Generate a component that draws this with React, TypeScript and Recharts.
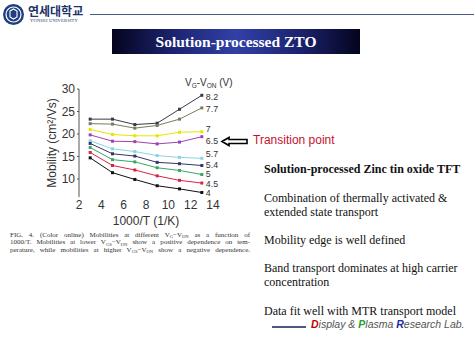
import React from "react"
import { LineChart, Line, XAxis, YAxis, LabelList } from "recharts"

// 1000/T (1/K)
const invTemp = [3, 5, 7, 9, 11, 13]

// mobility (cm2/Vs) for each VG-VON
const mu82 = [23.3, 23.3, 22.1, 22.4, 25.5, 28.6]
const mu77 = [22.3, 22.2, 21.3, 21.9, 23.3, 25.8]
const mu70 = [21.0, 19.9, 19.6, 19.6, 20.4, 20.5]
const mu65 = [19.8, 18.4, 18.3, 17.8, 18.2, 19.4]
const mu57 = [18.5, 16.7, 16.1, 15.2, 14.8, 14.6]
const mu54 = [17.9, 15.6, 15.1, 13.7, 13.4, 13.0]
const mu50 = [17.0, 14.3, 13.8, 12.5, 11.9, 11.0]
const mu45 = [15.9, 13.0, 12.0, 10.7, 9.7, 9.1]
const mu40 = [14.7, 11.4, 9.9, 8.5, 7.8, 7.0]

const xTicks = [2, 4, 6, 8, 10, 12, 14]
const yTicks = [10, 15, 20, 25, 30]

const series = [
  { key: "v82", label: "8.2", values: mu82, color: "#3a3a4a", dy: 2 },
  { key: "v77", label: "7.7", values: mu77, color: "#7a7a5a", dy: 1 },
  { key: "v70", label: "7", values: mu70, color: "#e6e600", dy: -3 },
  { key: "v65", label: "6.5", values: mu65, color: "#a040b0", dy: 4 },
  { key: "v57", label: "5.7", values: mu57, color: "#88d4e4", dy: -4 },
  { key: "v54", label: "5.4", values: mu54, color: "#35356a", dy: -1 },
  { key: "v50", label: "5", values: mu50, color: "#3aa860", dy: -1 },
  { key: "v45", label: "4.5", values: mu45, color: "#dd2244", dy: 0.5 },
  { key: "v40", label: "4", values: mu40, color: "#111111", dy: 0.5 },
]

const rows = invTemp.map((t, i) => {
  const r: Record<string, number> = { t }
  series.forEach(s => { r[s.key] = s.values[i] })
  return r
})

const sans = "'Liberation Sans', Arial, sans-serif"
const serif = "'Liberation Serif', 'Times New Roman', serif"

function squareDot(color: string) {
  return (p: any) => (
    <rect key={`d-${p.index}`} x={p.cx - 1.5} y={p.cy - 1.5} width={3} height={3} fill={color} />
  )
}

function endLabel(text: string, dy: number) {
  return (p: any) => {
    if (p.index !== invTemp.length - 1) return null
    return (
      <text x={p.x + 4} y={p.y + dy} dy="0.35em" fontSize={8.8} fill="#333" fontFamily={sans}>
        {text}
      </text>
    )
  }
}

function Chart() {
  return (
    <LineChart width={240} height={150} data={rows} margin={{ top: 9, right: 47, left: 19, bottom: 3 }}>
      <XAxis
        dataKey="t" type="number" domain={[2, 14]} ticks={xTicks}
        axisLine={false} tickLine={false} tickSize={0} tickMargin={3} height={30}
        tick={{ fontSize: 12, fill: "#333", fontFamily: sans }}
        label={{ value: "1000/T (1/K)", position: "insideBottom", offset: 2, fontSize: 12, fill: "#333", fontFamily: sans }}
      />
      <YAxis
        type="number" domain={[6, 30]} ticks={yTicks} width={40}
        axisLine={{ stroke: "#555" }} tickLine={{ stroke: "#555" }} tickSize={2} tickMargin={2}
        tick={{ fontSize: 12, fill: "#333", fontFamily: sans }}
        label={{
          value: "Mobility (cm²/Vs)", angle: -90, position: "insideLeft", offset: 13,
          fontSize: 12, fill: "#333", fontFamily: sans, style: { textAnchor: "middle" },
        }}
      />
      {series.map(s => (
        <Line
          key={s.key} dataKey={s.key} stroke={s.color} strokeWidth={1}
          dot={squareDot(s.color)} activeDot={false} isAnimationActive={false}
        >
          <LabelList dataKey={s.key} content={endLabel(s.label, s.dy)} />
        </Line>
      ))}
    </LineChart>
  )
}

const rightLines = [
  { text: "Solution-processed Zinc tin oxide TFT", y: 169, bold: true },
  { text: "Combination of thermally activated &", y: 198 },
  { text: "extended state transport", y: 212 },
  { text: "Mobility edge is well defined", y: 240 },
  { text: "Band transport dominates at high carrier", y: 268 },
  { text: "concentration", y: 282 },
  { text: "Data fit well with MTR transport model", y: 311 },
]

const abs = (s: React.CSSProperties): React.CSSProperties => ({ position: "absolute", ...s })

function Sub({ children }: { children: React.ReactNode }) {
  return <span style={{ fontSize: 4.6, position: "relative", top: 1.2 }}>{children}</span>
}

const capLine: React.CSSProperties = { textAlign: "justify", textAlignLast: "justify", whiteSpace: "nowrap", height: 7.4 }

export default function App() {
  return (
    <div style={{ position: "fixed", left: 0, top: 0, width: 474, height: 355, background: "#fff", overflow: "hidden" }}>
      {/* header logo */}
      <svg style={abs({ left: 2, top: 3 })} width={23} height={23}>
        <circle cx={11.5} cy={11.5} r={10.5} fill="#1f3f7f" />
        <circle cx={11.5} cy={11.5} r={7.5} fill="none" stroke="#fff" strokeWidth={1.2} />
        <path d="M8 8 L11.5 6 L15 8 L15 14 L11.5 16 L8 14 Z" fill="none" stroke="#fff" strokeWidth={1.1} />
      </svg>
      <div style={abs({ left: 28, top: 4, fontSize: 12, fontWeight: 700, color: "#223366", fontFamily: "'Noto Sans CJK KR', sans-serif", lineHeight: "14px" })}>
        연세대학교
      </div>
      <div style={abs({ left: 30, top: 18, fontSize: 4.5, color: "#223366", fontFamily: serif, letterSpacing: 0.2 })}>
        YONSEI UNIVERSITY
      </div>
      <div style={abs({ left: 90, top: 14, width: 384, height: 1, background: "#4a5a80" })} />

      {/* title */}
      <div
        style={abs({
          left: 112, top: 29, width: 248, height: 25,
          background: "linear-gradient(to right, #04041e 0%, #1c2470 25%, #3240a6 50%, #1c2470 75%, #04041e 100%)",
          color: "#fff", fontFamily: serif, fontWeight: 700, fontSize: 15.5,
          display: "flex", alignItems: "center", justifyContent: "center",
        })}
      >
        Solution-processed ZTO
      </div>

      {/* chart */}
      <div style={abs({ left: 20, top: 80 })}>
        <Chart />
      </div>
      <div style={abs({ left: 185, top: 77, fontSize: 10, lineHeight: "11px", color: "#333", fontFamily: sans, whiteSpace: "nowrap" })}>
        V<span style={{ fontSize: 6.5, position: "relative", top: 2 }}>G</span>-V<span style={{ fontSize: 6.5, position: "relative", top: 2 }}>ON</span> (V)
      </div>

      {/* arrow */}
      <svg style={abs({ left: 220, top: 136 })} width={30} height={12}>
        <path d="M2 5.5 L9 1.5 L9 3.5 L27 3.5 L27 7.5 L9 7.5 L9 9.5 Z" fill="#fff" stroke="#000" strokeWidth={1.6} strokeLinejoin="miter" />
      </svg>
      <div style={abs({ left: 253, top: 133, fontSize: 12, color: "#c8102e", fontFamily: sans, whiteSpace: "nowrap" })}>
        Transition point
      </div>

      {/* figure caption */}
      <div style={abs({ left: 10, top: 232, width: 240, fontSize: 7, lineHeight: "7.4px", color: "#333", fontFamily: serif })}>
        <div style={capLine}>
          FIG. 4. (Color online) Mobilities at different V<Sub>G</Sub>−V<Sub>ON</Sub> as a function of
        </div>
        <div style={capLine}>
          1000/T. Mobilities at lower V<Sub>GS</Sub>−V<Sub>ON</Sub> show a positive dependence on tem-
        </div>
        <div style={capLine}>
          perature, while mobilities at higher V<Sub>GS</Sub>−V<Sub>ON</Sub> show a negative dependence.
        </div>
      </div>

      {/* right text */}
      {rightLines.map(l => (
        <div
          key={l.text}
          style={abs({
            left: 264, top: l.y - 8, fontSize: 12, lineHeight: "16px", color: "#111",
            fontFamily: serif, fontWeight: l.bold ? 700 : 400, whiteSpace: "nowrap",
          })}
        >
          {l.text}
        </div>
      ))}

      {/* footer */}
      <div style={abs({ left: 272, top: 326, width: 34, height: 1.5, background: "#4a5a80" })} />
      <div style={abs({ left: 311, top: 318, fontSize: 10.5, fontStyle: "italic", color: "#555", fontFamily: sans, whiteSpace: "nowrap" })}>
        <span style={{ color: "#c00000", fontWeight: 700 }}>D</span>isplay &amp;{" "}
        <span style={{ color: "#22a022", fontWeight: 700 }}>P</span>lasma{" "}
        <span style={{ color: "#1a2aa0", fontWeight: 700 }}>R</span>esearch Lab.
      </div>
    </div>
  )
}
